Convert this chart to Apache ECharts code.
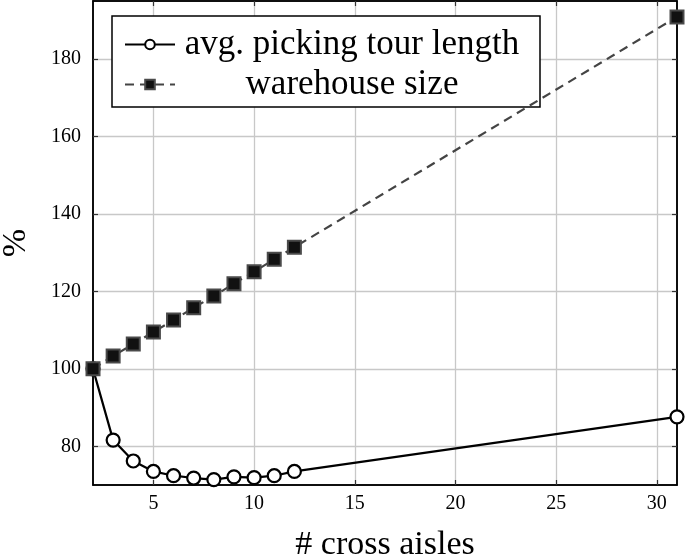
<!DOCTYPE html>
<html>
<head>
<meta charset="utf-8">
<script src="https://cdn.jsdelivr.net/npm/echarts@6/dist/echarts.min.js"></script>
<style>
html,body{margin:0;padding:0;background:#fff;}
#chart{width:685px;height:560px;}
</style>
</head>
<body>
<div id="chart"></div>
<script>
var crossAisles = [2, 3, 4, 5, 6, 7, 8, 9, 10, 11, 12, 31];
var tourLength = [100, 81.6, 76.2, 73.5, 72.4, 71.8, 71.4, 72.1, 71.9, 72.4, 73.5, 87.6];
var warehouseSize = [100, 103.3, 106.4, 109.5, 112.6, 115.8, 118.8, 122.0, 125.1, 128.3, 131.4, 190.9];
var xTicks = [5, 10, 15, 20, 25, 30];
var yTicks = [80, 100, 120, 140, 160, 180];
var seriesNames = ['avg. picking tour length', 'warehouse size'];

var FONT = '"Liberation Serif", "DejaVu Serif", serif';
var GRID = '#c8c8c8';

function pairs(xs, ys) {
  return xs.map(function (x, i) { return [x, ys[i]]; });
}

var chart = echarts.init(document.getElementById('chart'), null, {renderer: 'canvas'});
chart.setOption({
  animation: false,
  backgroundColor: '#fff',
  grid: {left: 93, right: 8, top: 1, bottom: 75, containLabel: false, outerBoundsMode: 'none',
    show: true, borderColor: '#000', borderWidth: 1.5, backgroundColor: 'transparent'},
  legend: {
    left: 112, top: 16, orient: 'vertical',
    backgroundColor: '#fff', borderColor: '#000', borderWidth: 1.5, borderRadius: 0,
    padding: [11, 16, 5, 12],
    itemWidth: 50, itemHeight: 12, itemGap: 5,
    selectedMode: false,
    data: seriesNames,
    formatter: function (name) { return '{c|' + name + '}'; },
    textStyle: {
      fontFamily: FONT, fontSize: 35, lineHeight: 30, color: '#000',
      rich: {c: {width: 344, align: 'center', fontFamily: FONT, fontSize: 35, lineHeight: 30, color: '#000'}}
    }
  },
  xAxis: [{
    type: 'value', min: 2, max: 31,
    name: '# cross aisles', nameLocation: 'middle', nameGap: 43,
    nameTextStyle: {fontFamily: FONT, fontSize: 34, color: '#000'},
    axisLine: {show: true, lineStyle: {color: '#000', width: 1.5}},
    axisTick: {show: true, inside: true, length: 5, customValues: xTicks, lineStyle: {color: '#333', width: 1.2}},
    axisLabel: {margin: 9, fontFamily: FONT, fontSize: 20, color: '#000', customValues: xTicks},
    splitLine: {show: true, lineStyle: {width: 1.3, color: GRID}}
  }, {
    type: 'value', min: 2, max: 31, position: 'top',
    axisLine: {show: true, lineStyle: {color: '#000', width: 1.5}},
    axisTick: {show: true, inside: true, length: 5, customValues: xTicks, lineStyle: {color: '#333', width: 1.2}},
    axisLabel: {show: false}, splitLine: {show: false}
  }],
  yAxis: [{
    type: 'value', min: 70, max: 195,
    name: '%', nameLocation: 'middle', nameGap: 60, nameRotate: 90,
    nameTextStyle: {fontFamily: FONT, fontSize: 34, color: '#000'},
    axisLine: {show: true, lineStyle: {color: '#000', width: 1.5}},
    axisTick: {show: true, inside: true, length: 5, customValues: yTicks, lineStyle: {color: '#333', width: 1.2}},
    axisLabel: {margin: 12, fontFamily: FONT, fontSize: 20, color: '#000', customValues: yTicks},
    splitLine: {show: true, lineStyle: {width: 1.3, color: GRID}}
  }, {
    type: 'value', min: 70, max: 195, position: 'right',
    axisLine: {show: true, lineStyle: {color: '#000', width: 1.5}},
    axisTick: {show: true, inside: true, length: 5, customValues: yTicks, lineStyle: {color: '#333', width: 1.2}},
    axisLabel: {show: false}, splitLine: {show: false}
  }],
  series: [{
    name: seriesNames[0], type: 'line', clip: false,
    data: pairs(crossAisles, tourLength),
    symbol: 'circle', symbolSize: 13, showAllSymbol: true,
    lineStyle: {color: '#000', width: 2.2},
    itemStyle: {color: '#fff', borderColor: '#000', borderWidth: 2.2},
    z: 3
  }, {
    name: seriesNames[1], type: 'line', clip: false,
    data: pairs(crossAisles, warehouseSize),
    symbol: 'rect', symbolSize: 13, showAllSymbol: true,
    lineStyle: {color: '#444', width: 2.2, type: [9, 6]},
    itemStyle: {color: '#111', borderColor: '#4a4a4a', borderWidth: 2},
    z: 4
  }]
});
</script>
</body>
</html>
